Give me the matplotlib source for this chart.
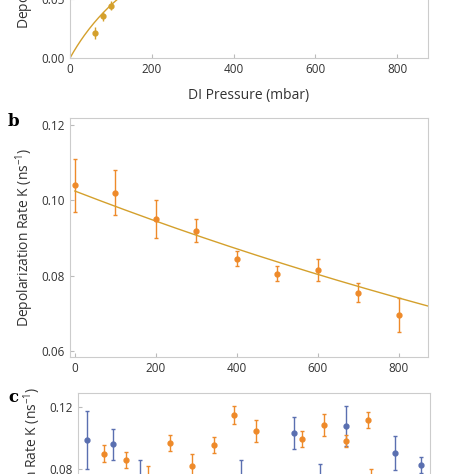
import numpy as np
import matplotlib
matplotlib.use("Agg")
import matplotlib.pyplot as plt

plt.rcParams['font.family'] = ['Open Sans', 'DejaVu Sans']
plt.rcParams['mathtext.fontset'] = 'custom'
plt.rcParams['mathtext.rm'] = 'Open Sans'

W = H = 474
fig = plt.figure(figsize=(4.74, 4.74), dpi=100)

def ax_px(l, r, top, bot):
    return fig.add_axes([l / W, 1 - bot / H, (r - l) / W, (bot - top) / H])

GOLD = '#D4A02C'
ORANGE = '#EE8A2A'
BLUE = '#5A6FB0'
FRAME = '#CCCCCC'

def style(ax):
    for s in ax.spines.values():
        s.set_color(FRAME)
    ax.tick_params(direction='in', colors='#BBBBBB', labelcolor='#333333', labelsize=8.5, length=3)

# Panel a
a_p = [60, 80, 100, 150, 200, 300, 400]
a_k = [0.021, 0.035, 0.044, 0.059, 0.068, 0.082, 0.092]
a_e = [0.005, 0.004, 0.004, 0.005, 0.005, 0.005, 0.005]
a_fit_amax, a_fit_b = 0.16, 260.0

ax = ax_px(70, 428, -180, 58)
style(ax)
ax.errorbar(a_p, a_k, yerr=a_e, fmt='o', ms=3.5, color=GOLD, elinewidth=1, capsize=0)
xx = np.linspace(0, 875, 300)
ax.plot(xx, a_fit_amax * xx / (a_fit_b + xx), color=GOLD, lw=1)
ax.set_xlim(0, 875)
ax.set_ylim(0, 0.2)
ax.set_xticks([0, 200, 400, 600, 800])
ax.set_yticks([0.0, 0.05, 0.10, 0.15])
ax.set_yticklabels(['0.00', '0.05', '0.10', '0.15'])
ax.set_xlabel('DI Pressure (mbar)', fontsize=10, color='#333333', labelpad=9)
ax.set_ylabel('Depolarization Rate K (ns$^{-1}$)', fontsize=10, color='#333333')

# Panel b
b_p = [0, 100, 200, 300, 400, 500, 600, 700, 800]
b_k = [0.104, 0.102, 0.095, 0.092, 0.0845, 0.0805, 0.0815, 0.0755, 0.0695]
b_e = [0.007, 0.006, 0.005, 0.003, 0.002, 0.002, 0.003, 0.0025, 0.0045]
b_fit_k0, b_fit_rate = 0.1025, 0.000406

ax = ax_px(70, 428, 118, 357)
style(ax)
ax.errorbar(b_p, b_k, yerr=b_e, fmt='o', ms=3.5, color=ORANGE, elinewidth=1, capsize=1.5)
xx = np.linspace(0, 872, 300)
ax.plot(xx, b_fit_k0 * np.exp(-b_fit_rate * xx), color=GOLD, lw=1)
ax.set_xlim(-12, 872)
ax.set_ylim(0.0584, 0.1219)
ax.set_xticks([0, 200, 400, 600, 800])
ax.set_yticks([0.06, 0.08, 0.10, 0.12])
ax.set_xlabel('SF$_6$ Partial Pressure (mbar)', fontsize=10, color='#333333', labelpad=14)
ax.set_ylabel('Depolarization Rate K (ns$^{-1}$)', fontsize=10, color='#333333')
fig.text(8 / W, 1 - 126 / H, 'b', fontsize=12, fontweight='bold', family='DejaVu Serif')

# Panel c
c_blue_x = [0.4, 1.6, 2.8, 7.4, 9.8, 11.0, 12.2, 14.4, 15.6]
c_blue_k = [0.0987, 0.0961, 0.074, 0.072, 0.1032, 0.070, 0.1077, 0.0903, 0.0826]
c_blue_e = [0.019, 0.010, 0.012, 0.014, 0.010, 0.013, 0.013, 0.011, 0.005]
c_or_x = [1.2, 2.2, 3.2, 4.2, 5.2, 6.2, 7.1, 8.1, 10.2, 11.2, 12.2, 13.2, 13.3]
c_or_k = [0.0897, 0.0858, 0.075, 0.0968, 0.0819, 0.0955, 0.1148, 0.1045, 0.0994, 0.1084, 0.0981, 0.1116, 0.072]
c_or_e = [0.0055, 0.005, 0.007, 0.005, 0.008, 0.005, 0.006, 0.007, 0.005, 0.007, 0.004, 0.005, 0.008]

ax = ax_px(78, 430, 393, 560)
style(ax)
ax.errorbar(c_blue_x, c_blue_k, yerr=c_blue_e, fmt='o', ms=3.5, color=BLUE, elinewidth=1, capsize=1.5)
ax.errorbar(c_or_x, c_or_k, yerr=c_or_e, fmt='o', ms=3.5, color=ORANGE, elinewidth=1, capsize=1.5)
ax.set_xlim(0, 16)
ax.set_ylim(0.0213, 0.129)
ax.set_yticks([0.04, 0.08, 0.12])
ax.set_xticks([])
ax.set_ylabel('Depolarization Rate K (ns$^{-1}$)', fontsize=10, color='#333333')
fig.text(8 / W, 1 - 402 / H, 'c', fontsize=12, fontweight='bold', family='DejaVu Serif')

fig.savefig('out.png', dpi=100)
